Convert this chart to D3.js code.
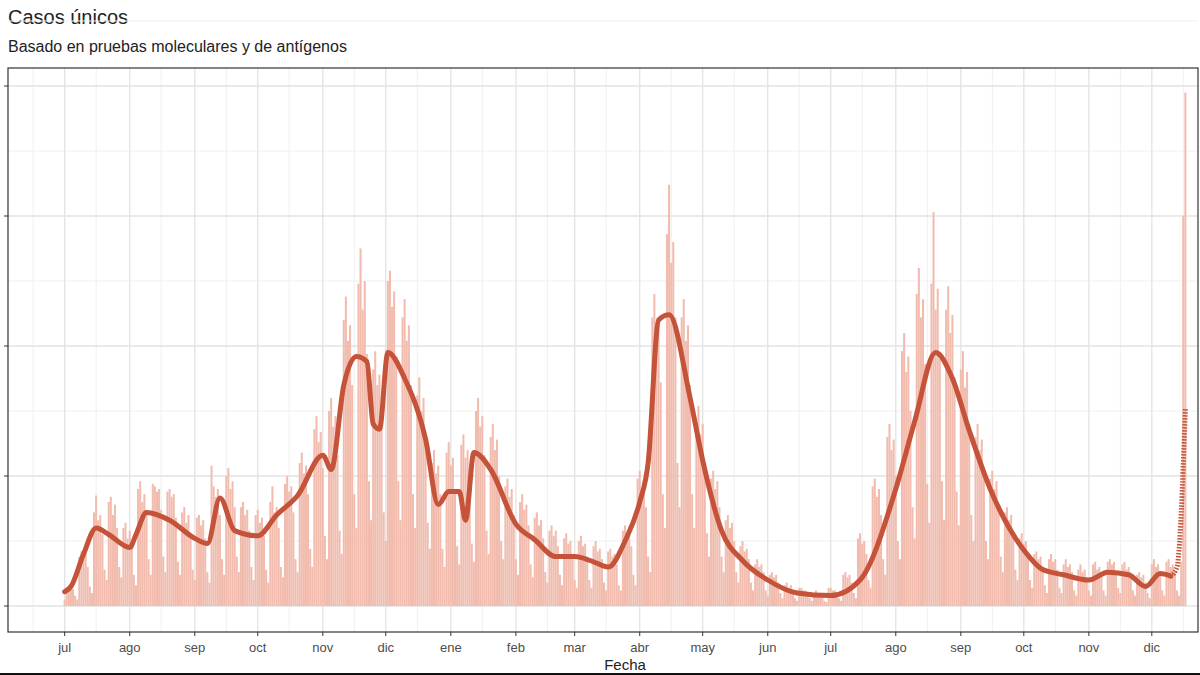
<!DOCTYPE html>
<html><head><meta charset="utf-8">
<script src="https://cdn.jsdelivr.net/npm/d3@7"></script>
<style>body{margin:0;background:#fff}svg{font-family:"Liberation Sans",Arial,sans-serif}</style>
</head><body><svg id="c" width="1200" height="675"></svg>
<script>
const startDate = "2020-07-01";
const monthLabels = ["jul","ago","sep","oct","nov","dic","ene","feb","mar","abr","may","jun","jul","ago","sep","oct","nov","dic"];
const monthDates = ["2020-07-01","2020-08-01","2020-09-01","2020-10-01","2020-11-01","2020-12-01","2021-01-01","2021-02-01","2021-03-01","2021-04-01","2021-05-01","2021-06-01","2021-07-01","2021-08-01","2021-09-01","2021-10-01","2021-11-01","2021-12-01"];
const yTicks = [0,1,2,3,4];
// daily cases (units: 1 = one major gridline ×100), in weeks
const dailyWeeks = [
[5,12,14,16,13,8,5],[38,42,36,40,30,15,10],[72,85,66,70,55,28,20],[80,84,70,78,60,30,22],
[60,64,52,58,46,24,16],[90,96,80,86,70,36,24],[94,92,88,90,74,38,26],[88,90,84,86,68,34,24],
[72,76,64,70,56,28,20],[68,70,62,66,52,26,18],[108,92,84,90,70,36,24],[100,106,90,96,76,38,26],
[76,80,70,74,58,30,20],[70,74,64,68,54,28,18],[80,92,72,76,60,30,22],[94,100,88,92,72,36,26],
[110,118,102,108,86,44,30],[136,146,126,134,106,54,36],[150,160,138,146,116,58,40],[220,238,204,216,170,86,60],
[248,275,228,250,194,96,66],[182,196,170,178,140,72,50],[250,258,230,242,192,96,66],[222,236,204,216,170,86,60],
[162,176,150,160,126,64,44],[110,120,102,108,86,44,30],[118,126,108,114,90,46,32],[124,132,114,120,96,48,34],
[150,160,138,146,116,58,40],[130,140,120,128,100,50,36],[92,98,84,90,70,36,24],[80,86,74,78,62,32,22],
[68,72,62,66,52,26,18],[58,62,54,58,46,24,16],[52,56,48,50,40,20,14],[50,54,46,48,38,20,14],
[46,50,42,44,36,18,12],[42,44,38,40,32,16,12],[58,62,54,58,46,24,16],[98,104,90,96,76,38,26],
[222,240,204,218,172,86,60],[286,324,264,280,222,110,76],[222,236,204,216,170,86,60],[142,154,132,140,110,56,38],
[98,104,90,96,76,38,26],[66,70,60,64,50,26,18],[46,50,42,44,36,18,12],[32,36,30,32,26,12,8],
[24,26,22,24,18,10,6],[16,18,14,16,12,6,4],[14,14,12,12,10,6,4],[10,12,10,10,8,4,3],
[14,14,12,12,10,6,4],[24,26,22,24,18,10,6],[52,56,48,50,40,20,14],[92,98,84,90,70,36,24],
[130,140,120,128,100,50,36],[196,210,180,192,150,76,52],[240,260,222,236,186,94,64],[248,303,228,244,190,96,66],
[228,246,210,224,176,88,62],[182,196,168,180,140,70,50],[130,140,120,128,100,50,36],[98,104,90,96,76,38,26],
[72,76,66,70,56,28,20],[52,56,48,50,40,20,14],[40,42,36,38,30,16,10],[36,40,34,36,28,14,10],
[32,36,30,32,26,12,8],[28,32,26,28,22,12,8],[32,34,28,30,24,12,8],[34,36,32,34,26,14,10],
[32,34,28,30,24,12,8],[24,26,22,24,18,10,6],[32,36,30,32,26,12,8],[34,36,30,32,26,12,8],
[34,300,395]];
// smoothed line key points
const lineDates = ["2020-07-01","2020-07-04","2020-07-10","2020-07-16","2020-07-22","2020-08-01","2020-08-04","2020-08-09","2020-08-20","2020-09-01","2020-09-07","2020-09-13","2020-09-20","2020-10-01","2020-10-10","2020-10-20","2020-11-01","2020-11-05","2020-11-11","2020-11-17","2020-11-22","2020-11-25","2020-11-28","2020-12-02","2020-12-10","2020-12-20","2020-12-26","2020-12-31","2021-01-05","2021-01-08","2021-01-12","2021-01-20","2021-02-01","2021-02-10","2021-02-20","2021-03-01","2021-03-10","2021-03-17","2021-03-25","2021-04-01","2021-04-05","2021-04-10","2021-04-15","2021-04-25","2021-05-01","2021-05-10","2021-05-20","2021-06-01","2021-06-15","2021-07-01","2021-07-15","2021-08-01","2021-08-10","2021-08-20","2021-08-28","2021-09-05","2021-09-15","2021-10-01","2021-10-10","2021-10-20","2021-11-01","2021-11-10","2021-11-20","2021-11-28","2021-12-05","2021-12-10"];
const lineValues = [0.11,0.15,0.40,0.60,0.55,0.45,0.55,0.72,0.66,0.52,0.48,0.83,0.58,0.54,0.70,0.85,1.16,1.05,1.70,1.92,1.88,1.40,1.36,1.95,1.75,1.28,0.78,0.88,0.88,0.66,1.18,1.05,0.63,0.51,0.38,0.38,0.34,0.30,0.50,0.80,1.10,2.20,2.24,1.60,1.12,0.58,0.35,0.20,0.10,0.08,0.20,0.90,1.42,1.95,1.75,1.35,0.90,0.43,0.28,0.24,0.20,0.26,0.24,0.15,0.25,0.23];
const dottedDates = ["2021-12-10","2021-12-13","2021-12-17"];
const dottedValues = [0.23,0.30,1.52];

const parse = d3.timeParse("%Y-%m-%d");
const svg = d3.select("#c");
const L=8,R=1198,T=68,B=632;
const x = d3.scaleTime().domain([parse("2020-06-04"), parse("2021-12-23")]).range([L,R]);
const y = d3.scaleLinear().domain([(606-632)/130, (606-68)/130]).range([632,68]);

const daily = dailyWeeks.flat();
const start = parse(startDate);
const days = daily.map((v,i)=>({d:d3.timeDay.offset(start,i), v:v/100}));

svg.append("text").attr("x",8).attr("y",24).attr("font-size",20).attr("fill","#222").text("Casos únicos");
svg.append("text").attr("x",8).attr("y",52).attr("font-size",16).attr("fill","#222").text("Basado en pruebas moleculares y de antígenos");

const g = svg.append("g");
g.append("rect").attr("x",L).attr("y",T).attr("width",R-L).attr("height",B-T).attr("fill","#fff");
const md = monthDates.map(parse);
const minorX = md.map(d=>d3.timeDay.offset(d,15)).concat([d3.timeDay.offset(parse("2020-06-01"),15)]);
g.selectAll(".mx").data(minorX).join("line").attr("x1",d=>x(d)).attr("x2",d=>x(d)).attr("y1",T).attr("y2",B).attr("stroke","#f0f0f0").attr("stroke-width",1);
g.selectAll(".my").data(yTicks.map(v=>v+0.5)).join("line").attr("x1",L).attr("x2",R).attr("y1",d=>y(d)).attr("y2",d=>y(d)).attr("stroke","#f0f0f0");
g.selectAll(".Mx").data(md).join("line").attr("x1",d=>x(d)).attr("x2",d=>x(d)).attr("y1",T).attr("y2",B).attr("stroke","#e3e3e3").attr("stroke-width",1.3);
g.selectAll(".My").data(yTicks).join("line").attr("x1",L).attr("x2",R).attr("y1",d=>y(d)).attr("y2",d=>y(d)).attr("stroke","#e3e3e3").attr("stroke-width",1.3);

const bw = x(parse("2020-07-02"))-x(parse("2020-07-01"));
g.selectAll(".bar").data(days).join("rect").attr("x",d=>x(d.d)-bw*0.5).attr("width",bw*0.97)
 .attr("y",d=>y(d.v)).attr("height",d=>y(0)-y(d.v)).attr("fill","#f1bcae");

const line = d3.line().x(d=>x(d.d)).y(d=>y(d.v)).curve(d3.curveMonotoneX);
const lp = lineDates.map((d,i)=>({d:parse(d),v:lineValues[i]}));
g.append("path").attr("d",line(lp)).attr("fill","none").attr("stroke","#c4533a").attr("stroke-width",5).attr("stroke-linejoin","round").attr("stroke-linecap","round");
const dp = dottedDates.map((d,i)=>({d:parse(d),v:dottedValues[i]}));
g.append("path").attr("d",line(dp)).attr("fill","none").attr("stroke","#c4533a").attr("stroke-width",5).attr("stroke-dasharray","1.5,1.5");

g.append("rect").attr("x",L).attr("y",T).attr("width",R-L).attr("height",B-T).attr("fill","none").attr("stroke","#333").attr("stroke-width",1.2);
g.selectAll(".yt").data(yTicks).join("line").attr("x1",L-4).attr("x2",L).attr("y1",d=>y(d)).attr("y2",d=>y(d)).attr("stroke","#333");
g.selectAll(".xt").data(md).join("line").attr("x1",d=>x(d)).attr("x2",d=>x(d)).attr("y1",B).attr("y2",B+4).attr("stroke","#333");
g.selectAll(".xl").data(md).join("text").attr("x",d=>x(d)).attr("y",B+20).attr("text-anchor","middle").attr("font-size",13).attr("fill","#4d4d4d").text((d,i)=>monthLabels[i]);
svg.append("text").attr("x",x(parse("2021-03-25"))).attr("y",670).attr("text-anchor","middle").attr("font-size",15).attr("fill","#222").text("Fecha");
svg.append("line").attr("x1",0).attr("x2",1200).attr("y1",674).attr("y2",674).attr("stroke","#111").attr("stroke-width",2);
</script></body></html>
